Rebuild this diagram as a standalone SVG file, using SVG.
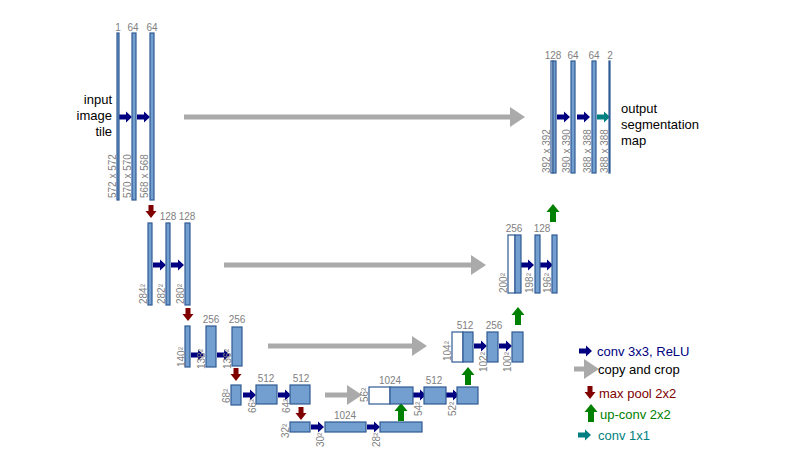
<svg xmlns="http://www.w3.org/2000/svg" xmlns:xlink="http://www.w3.org/1999/xlink" width="796" height="467" viewBox="0 0 796 467">
<style>
.b{fill:#729fcf;stroke:#2f5a93;stroke-width:1.2}
.w{fill:#fff;stroke:#2f5a93;stroke-width:1.2}
.l{font-family:"Liberation Sans",Arial,sans-serif;font-size:10px;fill:#7f7f7f}
.t{font-family:"Liberation Sans",Arial,sans-serif;font-size:13px;fill:#000}
.cp{stroke:#aaaaaa;stroke-width:5;fill:none}
.c{fill:#000080}.m{fill:#800000}.u{fill:#008000}.o{fill:#008080}
</style>
<defs>
<path id="r" d="M0,-2.5H7V-5.5L13,0L7,5.5V2.5H0Z"/>
<path id="d" d="M-2.5,0H2.5V6H5.5L0,13L-5.5,6H-2.5Z"/>
<path id="up" d="M-3,0H3V-10H6.5L0,-18L-6.5,-10H-3Z"/>
<marker id="gh" markerWidth="4" markerHeight="4" refX="1" refY="2" orient="auto" markerUnits="strokeWidth"><path d="M0,0L3,2L0,4Z" fill="#aaaaaa"/></marker>
</defs>
<g id="connectors">
<line class="cp" x1="184" y1="117" x2="515" y2="117" marker-end="url(#gh)"/>
<line class="cp" x1="224" y1="265" x2="476" y2="265" marker-end="url(#gh)"/>
<line class="cp" x1="268" y1="346" x2="417" y2="346" marker-end="url(#gh)"/>
<line class="cp" x1="325" y1="395" x2="352" y2="395" marker-end="url(#gh)"/>
<use href="#r" class="c" x="119" y="117"/><use href="#r" class="c" x="137" y="117"/>
<use href="#r" class="c" x="153" y="265"/><use href="#r" class="c" x="171" y="265"/>
<use href="#r" class="c" x="191" y="355"/><use href="#r" class="c" x="217" y="355"/>
<use href="#r" class="c" x="243" y="395"/><use href="#r" class="c" x="278" y="395"/>
<use href="#r" class="c" x="311" y="427"/><use href="#r" class="c" x="367" y="427"/>
<use href="#r" class="c" x="413" y="395"/><use href="#r" class="c" x="446" y="395"/>
<use href="#r" class="c" x="474" y="346"/><use href="#r" class="c" x="499" y="346"/>
<use href="#r" class="c" x="521" y="265"/><use href="#r" class="c" x="540" y="265"/>
<use href="#r" class="c" x="557" y="117"/><use href="#r" class="c" x="577" y="117"/>
<use href="#r" class="o" x="597" y="117"/>
<use href="#d" class="m" x="151" y="205"/><use href="#d" class="m" x="188" y="308"/>
<use href="#d" class="m" x="236" y="368"/><use href="#d" class="m" x="301" y="407"/>
<use href="#up" class="u" x="401" y="421"/><use href="#up" class="u" x="468" y="385"/>
<use href="#up" class="u" x="518" y="325"/><use href="#up" class="u" x="553" y="222"/>
</g>
<g id="level1">
<rect class="b" x="117" y="33" width="2" height="167"/>
<rect class="b" x="132" y="33" width="4" height="167"/>
<rect class="b" x="150" y="33" width="4" height="167"/>
<text class="l" x="118" y="31" text-anchor="middle">1</text>
<text class="l" x="133" y="31" text-anchor="middle">64</text>
<text class="l" x="152" y="31" text-anchor="middle">64</text>
<text class="l" transform="translate(116,198) rotate(-90)">572 x 572</text>
<text class="l" transform="translate(131,198) rotate(-90)">570 x 570</text>
<text class="l" transform="translate(148,198) rotate(-90)">568 x 568</text>
<text class="t" x="112" y="104" text-anchor="end">input</text>
<text class="t" x="112" y="120" text-anchor="end">image</text>
<text class="t" x="112" y="136" text-anchor="end">tile</text>
</g>
<g id="level2">
<rect class="b" x="148" y="223" width="4" height="82"/>
<rect class="b" x="166" y="223" width="4" height="82"/>
<rect class="b" x="185" y="223" width="5" height="82"/>
<text class="l" x="168" y="220" text-anchor="middle">128</text>
<text class="l" x="187" y="220" text-anchor="middle">128</text>
<text class="l" transform="translate(147,304) rotate(-90)">284²</text>
<text class="l" transform="translate(165,304) rotate(-90)">282²</text>
<text class="l" transform="translate(184,304) rotate(-90)">280²</text>
</g>
<g id="level3">
<rect class="b" x="185" y="326" width="5" height="41"/>
<rect class="b" x="206" y="326" width="10" height="41"/>
<rect class="b" x="232" y="327" width="10" height="39"/>
<text class="l" x="211" y="323" text-anchor="middle">256</text>
<text class="l" x="237" y="323" text-anchor="middle">256</text>
<text class="l" transform="translate(185,367) rotate(-90)">140²</text>
<text class="l" transform="translate(205,369) rotate(-90)">138²</text>
<text class="l" transform="translate(231,369) rotate(-90)">136²</text>
</g>
<g id="level4">
<rect class="b" x="231" y="385" width="10" height="20"/>
<rect class="b" x="256" y="385" width="21" height="19"/>
<rect class="b" x="290" y="385" width="20" height="19"/>
<text class="l" x="266" y="382" text-anchor="middle">512</text>
<text class="l" x="301" y="382" text-anchor="middle">512</text>
<text class="l" transform="translate(230,403) rotate(-90)">68²</text>
<text class="l" transform="translate(256,413) rotate(-90)">66²</text>
<text class="l" transform="translate(290,413) rotate(-90)">64²</text>
</g>
<g id="level5">
<rect class="b" x="290" y="422" width="20" height="10"/>
<rect class="b" x="325" y="422" width="41" height="10"/>
<rect class="b" x="380" y="422" width="42" height="10"/>
<text class="l" x="345" y="419" text-anchor="middle">1024</text>
<text class="l" transform="translate(289,438) rotate(-90)">32²</text>
<text class="l" transform="translate(324,447) rotate(-90)">30²</text>
<text class="l" transform="translate(380,447) rotate(-90)">28²</text>
</g>
<g id="up4">
<rect class="w" x="369" y="387" width="21" height="17"/>
<rect class="b" x="390" y="387" width="23" height="17"/>
<rect class="b" x="424" y="387" width="22" height="17"/>
<rect class="b" x="457" y="387" width="21" height="17"/>
<text class="l" x="390" y="384" text-anchor="middle">1024</text>
<text class="l" x="434" y="384" text-anchor="middle">512</text>
<text class="l" transform="translate(368,402) rotate(-90)">56²</text>
<text class="l" transform="translate(422,416) rotate(-90)">54²</text>
<text class="l" transform="translate(456,416) rotate(-90)">52²</text>
</g>
<g id="up3">
<rect class="w" x="452" y="332" width="11" height="30"/>
<rect class="b" x="463" y="332" width="10" height="30"/>
<rect class="b" x="487" y="332" width="11" height="30"/>
<rect class="b" x="512" y="332" width="11" height="30"/>
<text class="l" x="465" y="329" text-anchor="middle">512</text>
<text class="l" x="494" y="329" text-anchor="middle">256</text>
<text class="l" transform="translate(451,361) rotate(-90)">104²</text>
<text class="l" transform="translate(487,372) rotate(-90)">102²</text>
<text class="l" transform="translate(511,372) rotate(-90)">100²</text>
</g>
<g id="up2">
<rect class="w" x="508" y="235" width="7" height="58"/>
<rect class="b" x="515" y="235" width="6" height="58"/>
<rect class="b" x="535" y="235" width="5" height="58"/>
<rect class="b" x="552" y="235" width="5" height="58"/>
<text class="l" x="514" y="232" text-anchor="middle">256</text>
<text class="l" x="542" y="232" text-anchor="middle">128</text>
<text class="l" transform="translate(507,293) rotate(-90)">200²</text>
<text class="l" transform="translate(533,293) rotate(-90)">198²</text>
<text class="l" transform="translate(551,293) rotate(-90)">196²</text>
</g>
<g id="up1">
<rect class="w" x="551" y="61" width="2" height="112"/>
<rect class="b" x="553" y="61" width="3" height="112"/>
<rect class="b" x="571" y="61" width="4" height="112"/>
<rect class="b" x="592" y="61" width="4" height="112"/>
<rect class="b" x="609" y="61" width="1" height="112"/>
<text class="l" x="553" y="59" text-anchor="middle">128</text>
<text class="l" x="573" y="59" text-anchor="middle">64</text>
<text class="l" x="594" y="59" text-anchor="middle">64</text>
<text class="l" x="610" y="59" text-anchor="middle">2</text>
<text class="l" transform="translate(550,173) rotate(-90)">392 x 392</text>
<text class="l" transform="translate(570,173) rotate(-90)">390 x 390</text>
<text class="l" transform="translate(591,173) rotate(-90)">388 x 388</text>
<text class="l" transform="translate(608,173) rotate(-90)">388 x 388</text>
<text class="t" x="621" y="113">output</text>
<text class="t" x="621" y="129">segmentation</text>
<text class="t" x="621" y="145">map</text>
</g>
<g id="legend">
<use href="#r" class="c" x="579" y="351"/>
<text class="t" x="597" y="356" fill="#000080" style="fill:#000080">conv 3x3, ReLU</text>
<line class="cp" x1="574" y1="369" x2="589" y2="369" marker-end="url(#gh)"/>
<text class="t" x="598" y="374">copy and crop</text>
<use href="#d" class="m" x="590" y="386"/>
<text class="t" x="599" y="398" style="fill:#800000">max pool 2x2</text>
<use href="#up" class="u" x="591" y="422"/>
<text class="t" x="600" y="419" style="fill:#008000">up-conv 2x2</text>
<use href="#r" class="o" x="578" y="435"/>
<text class="t" x="598" y="440" style="fill:#008080">conv 1x1</text>
</g>
</svg>
